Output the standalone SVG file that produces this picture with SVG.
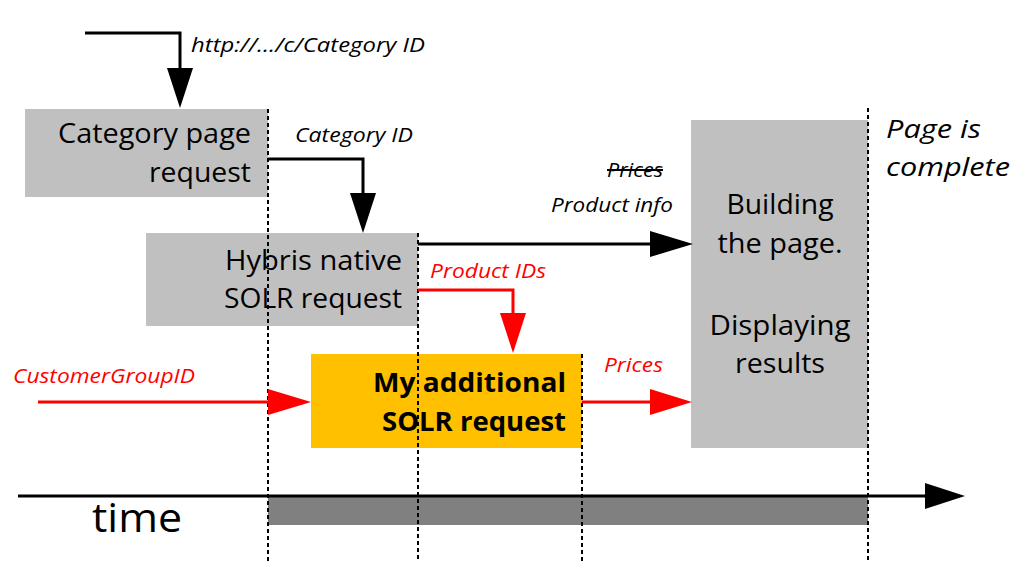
<svg xmlns="http://www.w3.org/2000/svg" width="1024" height="565" viewBox="0 0 1024 565">
<style>
.t{font-family:"Open Sans","Liberation Sans",sans-serif;fill:#000}
.box{font-size:27px}
.lbl{font-size:20px;font-style:italic}
.red{fill:#FF0000}
.ln{fill:none;stroke:#000;stroke-width:3}
.rl{fill:none;stroke:#FF0000;stroke-width:3}
.dash{stroke:#000;stroke-width:2;stroke-dasharray:4 3;fill:none}
</style>
<rect width="1024" height="565" fill="#fff"/>
<g id="timebar">
<rect x="268" y="497" width="600" height="28" fill="#808080"/>
</g>
<g id="box-category">
<rect x="25" y="109" width="243" height="88" fill="#C0C0C0"/>
<text class="t box" text-anchor="end" x="251" y="143" textLength="193" lengthAdjust="spacingAndGlyphs">Category page</text>
<text class="t box" text-anchor="end" x="251" y="182" textLength="102" lengthAdjust="spacingAndGlyphs">request</text>
</g>
<g id="box-hybris">
<rect x="146" y="233" width="272" height="93" fill="#C0C0C0"/>
<text class="t box" text-anchor="end" x="402" y="270" textLength="177" lengthAdjust="spacingAndGlyphs">Hybris native</text>
<text class="t box" text-anchor="end" x="402" y="308" textLength="178" lengthAdjust="spacingAndGlyphs">SOLR request</text>
</g>
<g id="box-additional">
<rect x="311" y="354" width="271" height="94" fill="#FFC000"/>
<text class="t box" font-weight="bold" text-anchor="end" x="566" y="392" textLength="193" lengthAdjust="spacingAndGlyphs">My additional</text>
<text class="t box" font-weight="bold" text-anchor="end" x="566" y="431" textLength="184" lengthAdjust="spacingAndGlyphs">SOLR request</text>
</g>
<g id="box-building">
<rect x="691" y="120" width="177" height="328" fill="#C0C0C0"/>
<text class="t box" text-anchor="middle" x="780" y="214" textLength="107" lengthAdjust="spacingAndGlyphs">Building</text>
<text class="t box" text-anchor="middle" x="780" y="253" textLength="125" lengthAdjust="spacingAndGlyphs">the page.</text>
<text class="t box" text-anchor="middle" x="780" y="335" textLength="141" lengthAdjust="spacingAndGlyphs">Displaying</text>
<text class="t box" text-anchor="middle" x="780" y="373" textLength="90" lengthAdjust="spacingAndGlyphs">results</text>
</g>
<g id="page-complete">
<text class="t" font-size="25" font-style="italic" x="886" y="138" textLength="95" lengthAdjust="spacingAndGlyphs">Page is</text>
<text class="t" font-size="25" font-style="italic" x="886" y="176" textLength="124" lengthAdjust="spacingAndGlyphs">complete</text>
</g>
<g id="time-label">
<text class="t" font-size="40" x="92" y="532" textLength="90" lengthAdjust="spacingAndGlyphs">time</text>
</g>
<g id="connectors">
<line class="dash" x1="268" y1="109" x2="268" y2="562"/>
<line class="dash" x1="418" y1="233" x2="418" y2="562"/>
<line class="dash" x1="582" y1="354" x2="582" y2="562"/>
<line class="dash" x1="868" y1="108" x2="868" y2="562"/>
<polyline class="ln" points="85,33 180,33 180,72"/>
<polygon points="167,68 193,68 180,108" fill="#000"/>
<polyline class="ln" points="268,159 363,159 363,197"/>
<polygon points="350,193 376,193 363,233" fill="#000"/>
<line class="ln" x1="418" y1="244" x2="654" y2="244"/>
<polygon points="650,231 650,257 693,244" fill="#000"/>
<polyline class="rl" points="418,290 513,290 513,317"/>
<polygon points="500,313 526,313 513,353" fill="#FF0000"/>
<line class="rl" x1="38" y1="402" x2="272" y2="402"/>
<polygon points="268,389 268,415 311,402" fill="#FF0000"/>
<line class="rl" x1="582" y1="402" x2="654" y2="402"/>
<polygon points="650,389 650,415 692,402" fill="#FF0000"/>
<line class="ln" x1="18" y1="496" x2="930" y2="496"/>
<polygon points="925,483 925,509 965,496" fill="#000"/>
<text class="t lbl" x="191" y="52" textLength="234" lengthAdjust="spacingAndGlyphs">http://…/c/Category ID</text>
<text class="t lbl" x="295" y="142" textLength="118" lengthAdjust="spacingAndGlyphs">Category ID</text>
<text class="t lbl" text-anchor="end" x="663" y="177" text-decoration="line-through" textLength="56" lengthAdjust="spacingAndGlyphs">Prices</text>
<text class="t lbl" text-anchor="end" x="673" y="212" textLength="122" lengthAdjust="spacingAndGlyphs">Product info</text>
<text class="t lbl red" x="430" y="278" textLength="116" lengthAdjust="spacingAndGlyphs">Product IDs</text>
<text class="t lbl red" x="13" y="383" textLength="182" lengthAdjust="spacingAndGlyphs">CustomerGroupID</text>
<text class="t lbl red" x="604" y="372" textLength="59" lengthAdjust="spacingAndGlyphs">Prices</text>
</g>
</svg>
